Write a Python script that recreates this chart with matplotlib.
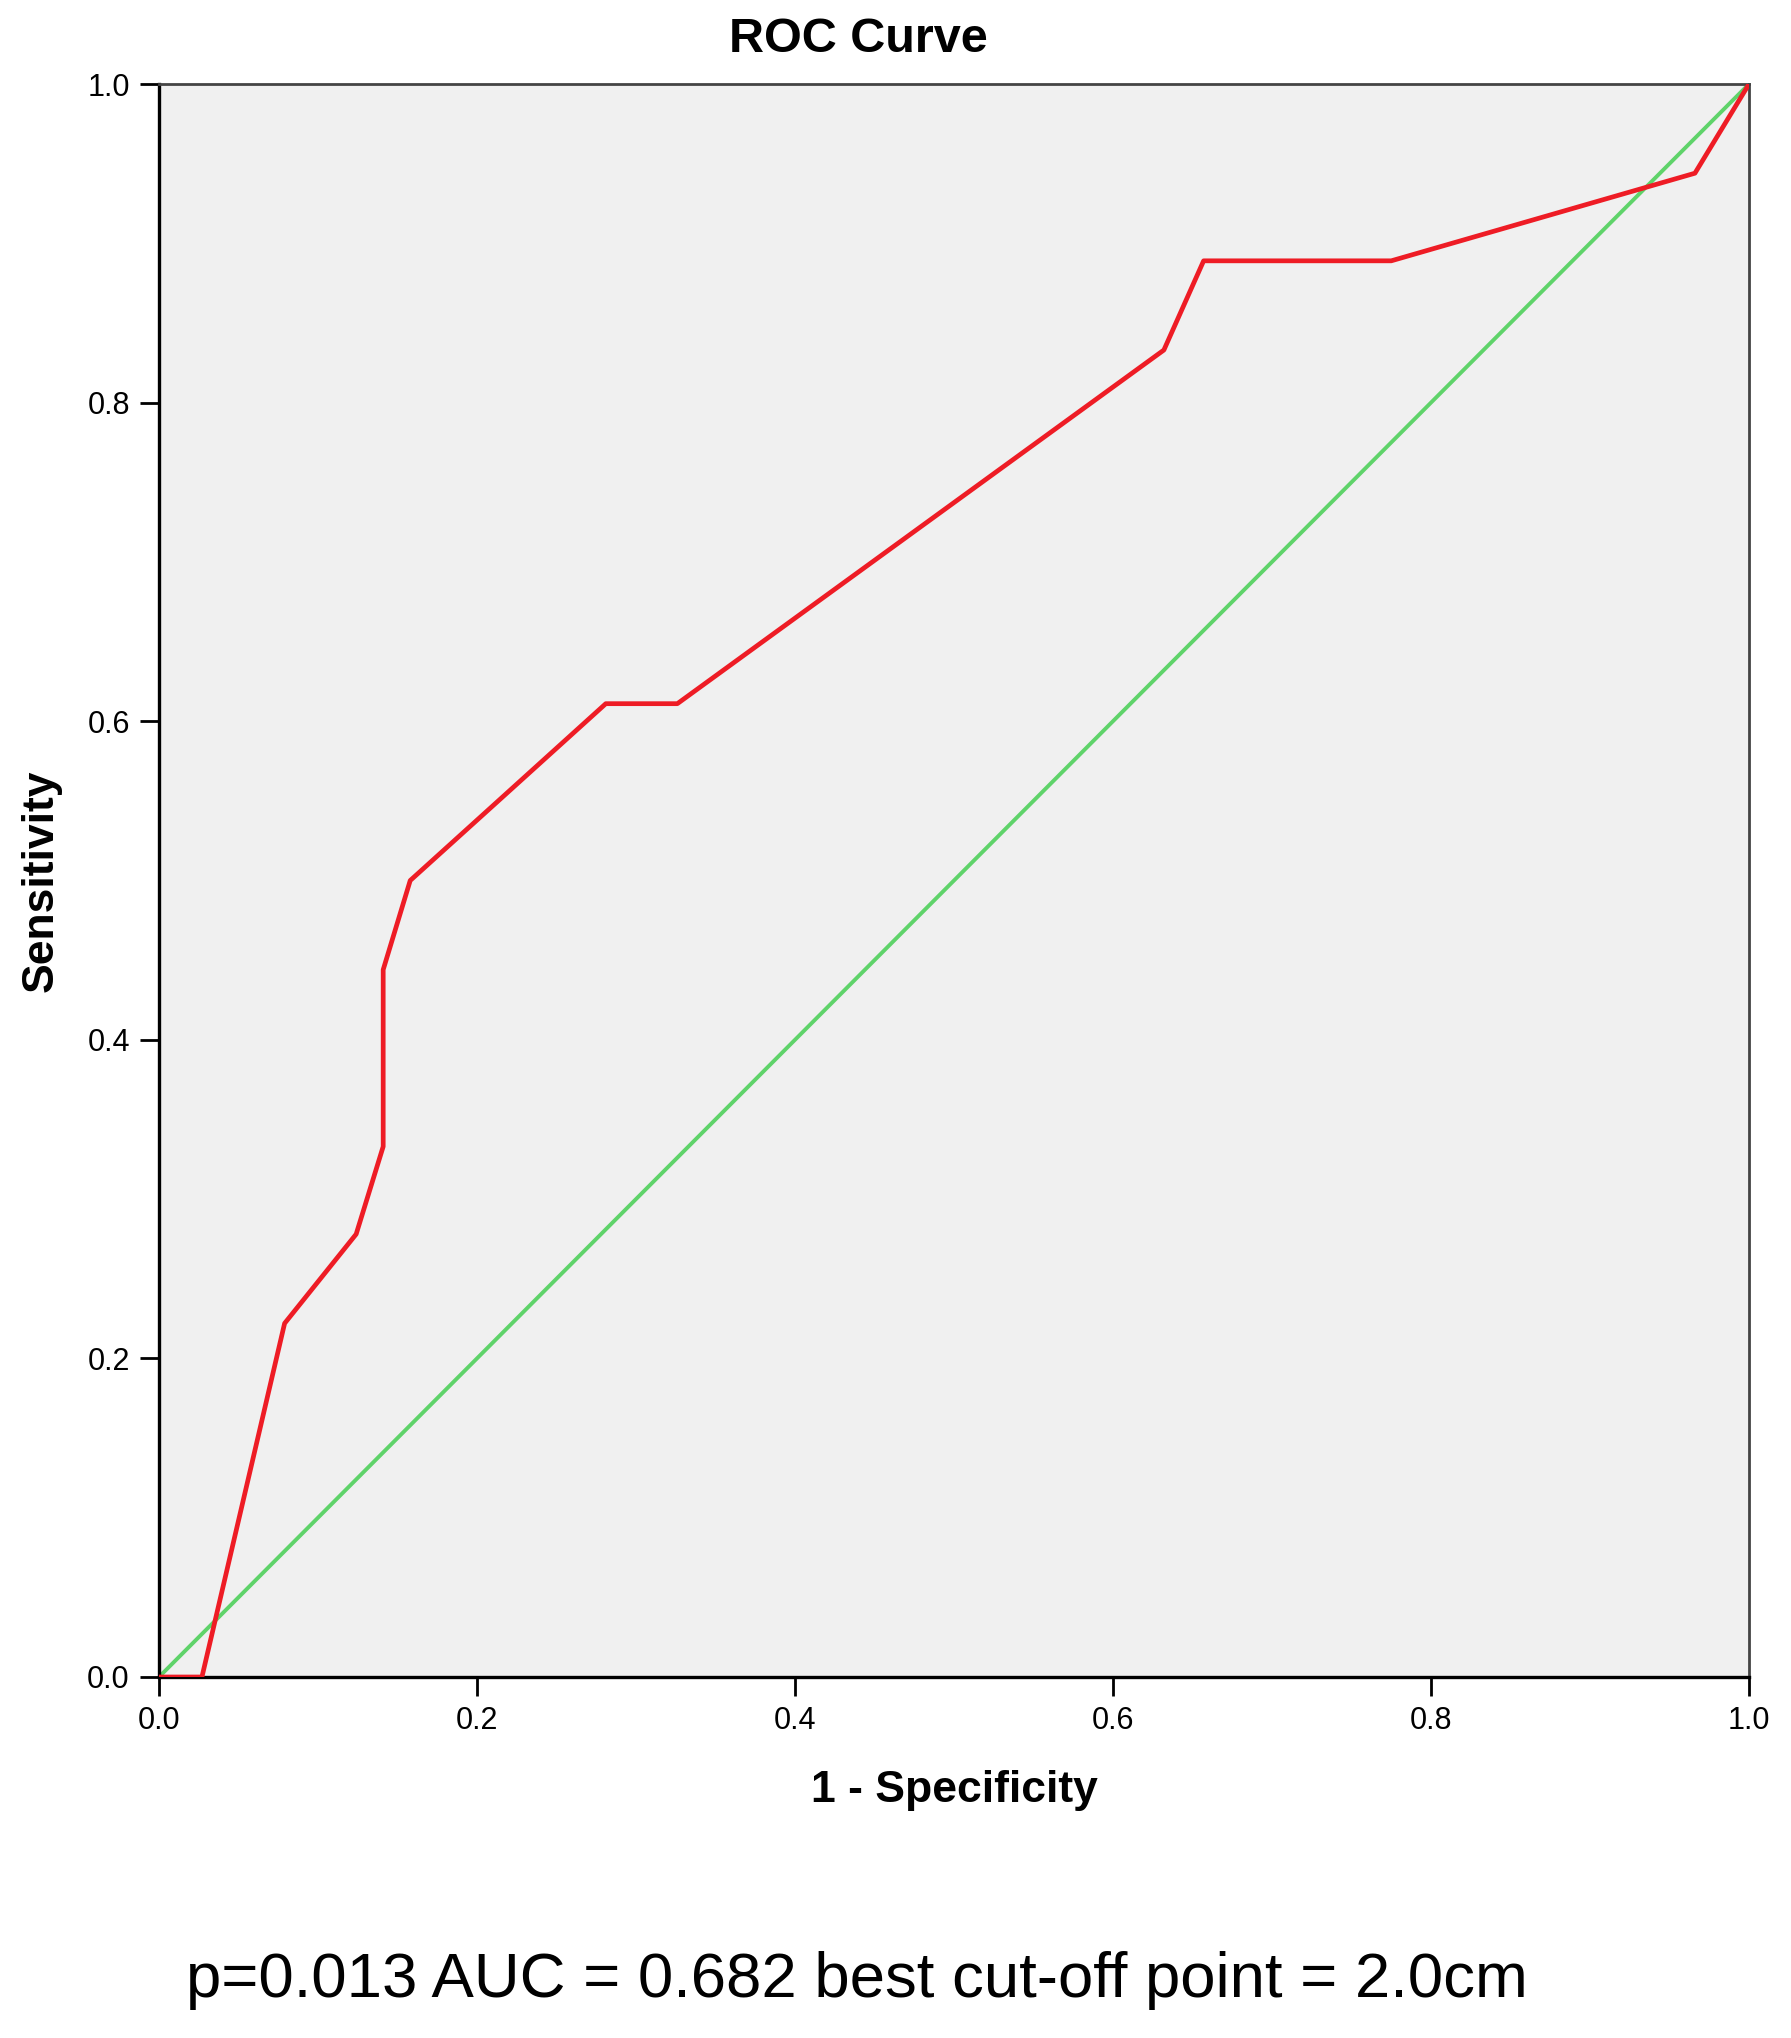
import numpy as np
import matplotlib
matplotlib.use("Agg")
import matplotlib.pyplot as plt

plt.rcParams.update({
    "font.family": ["Liberation Sans", "DejaVu Sans"],
})

# ROC curve points (1 - specificity, sensitivity)
fpr = [0.0, 0.027, 0.079, 0.124, 0.141, 0.141, 0.158, 0.281, 0.326, 0.632, 0.657, 0.775, 0.966, 1.0]
tpr = [0.0, 0.0, 0.222, 0.278, 0.333, 0.444, 0.500, 0.611, 0.611, 0.833, 0.889, 0.889, 0.944, 1.0]
# reference line
ref_x = [0.0, 1.0]
ref_y = [0.0, 1.0]
ticks = [0.0, 0.2, 0.4, 0.6, 0.8, 1.0]
tick_labels = ["0.0", "0.2", "0.4", "0.6", "0.8", "1.0"]

W, H = 1791, 2038
fig = plt.figure(figsize=(W / 100, H / 100), dpi=100)
left, right, top, bottom = 159, 1749, 84, 1677
ax = fig.add_axes([left / W, 1 - bottom / H, (right - left) / W, (bottom - top) / H])
ax.set_facecolor("#f0f0f0")

ax.plot(ref_x, ref_y, color="#5fd36a", lw=2.8, zorder=2)
ax.plot(fpr, tpr, color="#ee1c25", lw=3.4, zorder=3)

ax.set_xlim(0, 1)
ax.set_ylim(0, 1)
ax.set_xticks(ticks)
ax.set_yticks(ticks)
ax.set_xticklabels(tick_labels)
ax.set_yticklabels(tick_labels)
ax.tick_params(direction="out", length=14, width=2, labelsize=22, pad=7, colors="black")

for s in ["left", "bottom"]:
    ax.spines[s].set_linewidth(2.4)
    ax.spines[s].set_color("black")
for s in ["top", "right"]:
    ax.spines[s].set_linewidth(2.0)
    ax.spines[s].set_color("#444444")

ax.set_xlabel("1 - Specificity", fontsize=32, fontweight="bold")
ax.set_ylabel("Sensitivity", fontsize=32, fontweight="bold")
ax.xaxis.set_label_coords(0.5, -0.071)
ax.yaxis.set_label_coords(-0.074, 0.5)
ax.xaxis.label.set_va("center")
ax.yaxis.label.set_va("center")

fig.text(858 / W, 1 - 40 / H, "ROC Curve", fontsize=35, fontweight="bold",
         ha="center", va="center")

fig.text(857 / W, 1 - 1980 / H, "p=0.013 AUC = 0.682 best cut-off point = 2.0cm",
         fontsize=45.7, ha="center", va="center")

fig.savefig("out.png", dpi=100, facecolor="white")
